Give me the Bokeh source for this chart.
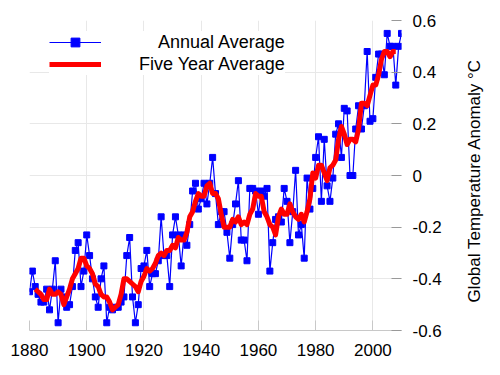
import math
from bokeh.plotting import figure
from bokeh.models import (Range1d, FixedTicker, CustomJSTickFormatter, Legend,
                          LegendItem, LinearAxis)
from bokeh.embed import file_html
from bokeh.resources import INLINE

# ---- data ----
years = list(range(1880, 2011))
annual = [
    -0.45, -0.37, -0.43, -0.46, -0.49, -0.49, -0.44, -0.52, -0.44, -0.33,  # 1880s
    -0.57, -0.44, -0.47, -0.51, -0.50, -0.43, -0.29, -0.26, -0.43, -0.37,  # 1890s
    -0.23, -0.31, -0.40, -0.47, -0.51, -0.40, -0.35, -0.57, -0.51, -0.52,  # 1900s
    -0.51, -0.51, -0.49, -0.47, -0.31, -0.24, -0.47, -0.57, -0.50, -0.36,  # 1910s
    -0.35, -0.29, -0.43, -0.38, -0.38, -0.33, -0.16, -0.31, -0.31, -0.43,  # 1920s
    -0.23, -0.16, -0.23, -0.35, -0.23, -0.27, -0.19, -0.06, -0.03, -0.13,  # 1930s
    -0.09, -0.03, -0.11, -0.03, 0.07, -0.07, -0.19, -0.14, -0.14, -0.22,   # 1940s
    -0.32, -0.19, -0.11, -0.02, -0.25, -0.25, -0.33, -0.05, -0.05, -0.06,  # 1950s
    -0.15, -0.06, -0.08, -0.05, -0.37, -0.26, -0.17, -0.16, -0.18, -0.05,  # 1960s
    -0.10, -0.26, -0.14, 0.02, -0.23, -0.19, -0.32, -0.01, -0.13, -0.05,   # 1970s
    0.07, 0.15, -0.10, 0.14, -0.04, -0.10, -0.01, 0.16, 0.20, 0.07,        # 1980s
    0.26, 0.25, 0.00, 0.00, 0.18, 0.27, 0.18, 0.27, 0.48, 0.21,            # 1990s
    0.22, 0.38, 0.47, 0.47, 0.39, 0.55, 0.50, 0.50, 0.35, 0.50,            # 2000s
    0.55,                                                                  # 2010
]
five_years = list(range(1882, 2009))
five_year = [
    -0.44, -0.45, -0.46, -0.48, -0.48, -0.44, -0.46, -0.46, -0.45, -0.46,
    -0.50, -0.47, -0.44, -0.40, -0.38, -0.36, -0.32, -0.32, -0.35, -0.36,
    -0.38, -0.42, -0.43, -0.46, -0.47, -0.47, -0.49, -0.52, -0.51, -0.50,
    -0.46, -0.40, -0.40, -0.41, -0.42, -0.43, -0.45, -0.41, -0.39, -0.36,
    -0.37, -0.36, -0.34, -0.31, -0.30, -0.31, -0.29, -0.29, -0.27, -0.28,
    -0.24, -0.25, -0.25, -0.22, -0.16, -0.14, -0.10, -0.07, -0.08, -0.08,
    -0.04, -0.03, -0.07, -0.07, -0.09, -0.15, -0.20, -0.20, -0.20, -0.17,
    -0.18, -0.16, -0.19, -0.18, -0.19, -0.15, -0.13, -0.07, -0.08, -0.08,
    -0.14, -0.16, -0.19, -0.20, -0.23, -0.16, -0.13, -0.15, -0.15, -0.11,
    -0.14, -0.16, -0.17, -0.15, -0.18, -0.14, -0.09, 0.01, -0.01, 0.04,
    0.04, 0.01, -0.02, 0.03, 0.04, 0.06, 0.14, 0.19, 0.16, 0.12,
    0.14, 0.14, 0.13, 0.18, 0.28, 0.28, 0.27, 0.31, 0.35, 0.35,
    0.39, 0.45, 0.48, 0.48, 0.46, 0.48, 0.48,
]
x_ticks = [1880, 1900, 1920, 1940, 1960, 1980, 2000]
y_ticks = [-0.6, -0.4, -0.2, 0, 0.2, 0.4, 0.6]
series_names = ["Annual Average", "Five Year Average"]
y_title = "Global Temperature Anomaly °C"

FONT = "Liberation Sans"
GRID = "#e8e8e8"
XAXIS = "#c8c8c8"
YTICK = "#999999"

p = figure(width=496, height=370, output_backend="svg", toolbar_location=None,
           x_range=Range1d(1880, 2010), y_range=Range1d(-0.6, 0.6),
           y_axis_location="right",
           min_border_left=29, min_border_right=93,
           min_border_top=20, min_border_bottom=40)
p.outline_line_color = None
p.background_fill_color = "white"
p.border_fill_color = "white"

p.xaxis.ticker = FixedTicker(ticks=x_ticks)
p.yaxis.ticker = FixedTicker(ticks=y_ticks)
p.yaxis.formatter = CustomJSTickFormatter(code="return tick == 0 ? '0' : tick.toFixed(1);")
p.xgrid.grid_line_color = GRID
p.ygrid.grid_line_color = GRID

for ax in (p.xaxis, p.yaxis):
    ax.major_tick_in = 10
    ax.major_tick_out = 0
    ax.minor_tick_line_color = None
    ax.major_label_text_font = FONT
    ax.major_label_text_font_size = "17px"
    ax.major_label_text_color = "black"
p.xaxis.axis_line_color = XAXIS
p.xaxis.major_tick_line_color = XAXIS
p.yaxis.axis_line_color = None
p.yaxis.major_tick_line_color = YTICK
p.xaxis.major_label_standoff = 13
p.yaxis.major_label_standoff = 11

line_a = p.line(years, annual, line_color="#0000ff", line_width=1.2)
pts_a = p.scatter(years, annual, marker="square", size=6,
                  fill_color="#0000ff", line_color="#0000ff")
line_f = p.line(five_years, five_year, line_color="#ff0000", line_width=5,
                line_join="round")

common = dict(padding=0, spacing=0, margin=0, label_height=22, glyph_height=22,
              glyph_width=52, label_text_font=FONT, label_text_font_size="18px",
              label_text_color="black", background_fill_color="white",
              background_fill_alpha=1.0, border_line_color=None)
leg1 = Legend(items=[LegendItem(label=series_names[0], renderers=[line_a, pts_a])],
              location=(20, 277), label_standoff=57, **common)
leg2 = Legend(items=[LegendItem(label=series_names[1], renderers=[line_f])],
              location=(20, 255), label_standoff=38, **common)
p.add_layout(leg1)
p.add_layout(leg2)

# outer axis that only carries the title (one rotated label, reading bottom-to-top,
# starting at the lower end of the title's extent)
title_axis = LinearAxis(ticker=FixedTicker(ticks=[-0.492]),
                        formatter=CustomJSTickFormatter(args=dict(t=y_title), code="return t;"),
                        major_label_orientation=math.pi / 2,
                        major_label_standoff=30,
                        axis_line_color=None, major_tick_line_color=None,
                        minor_tick_line_color=None, major_tick_in=0, major_tick_out=0,
                        minor_tick_in=0, minor_tick_out=0,
                        major_label_text_font=FONT, major_label_text_font_size="17px",
                        major_label_text_color="black")
p.add_layout(title_axis, "right")

open("out.html", "w").write(file_html(p, INLINE))
